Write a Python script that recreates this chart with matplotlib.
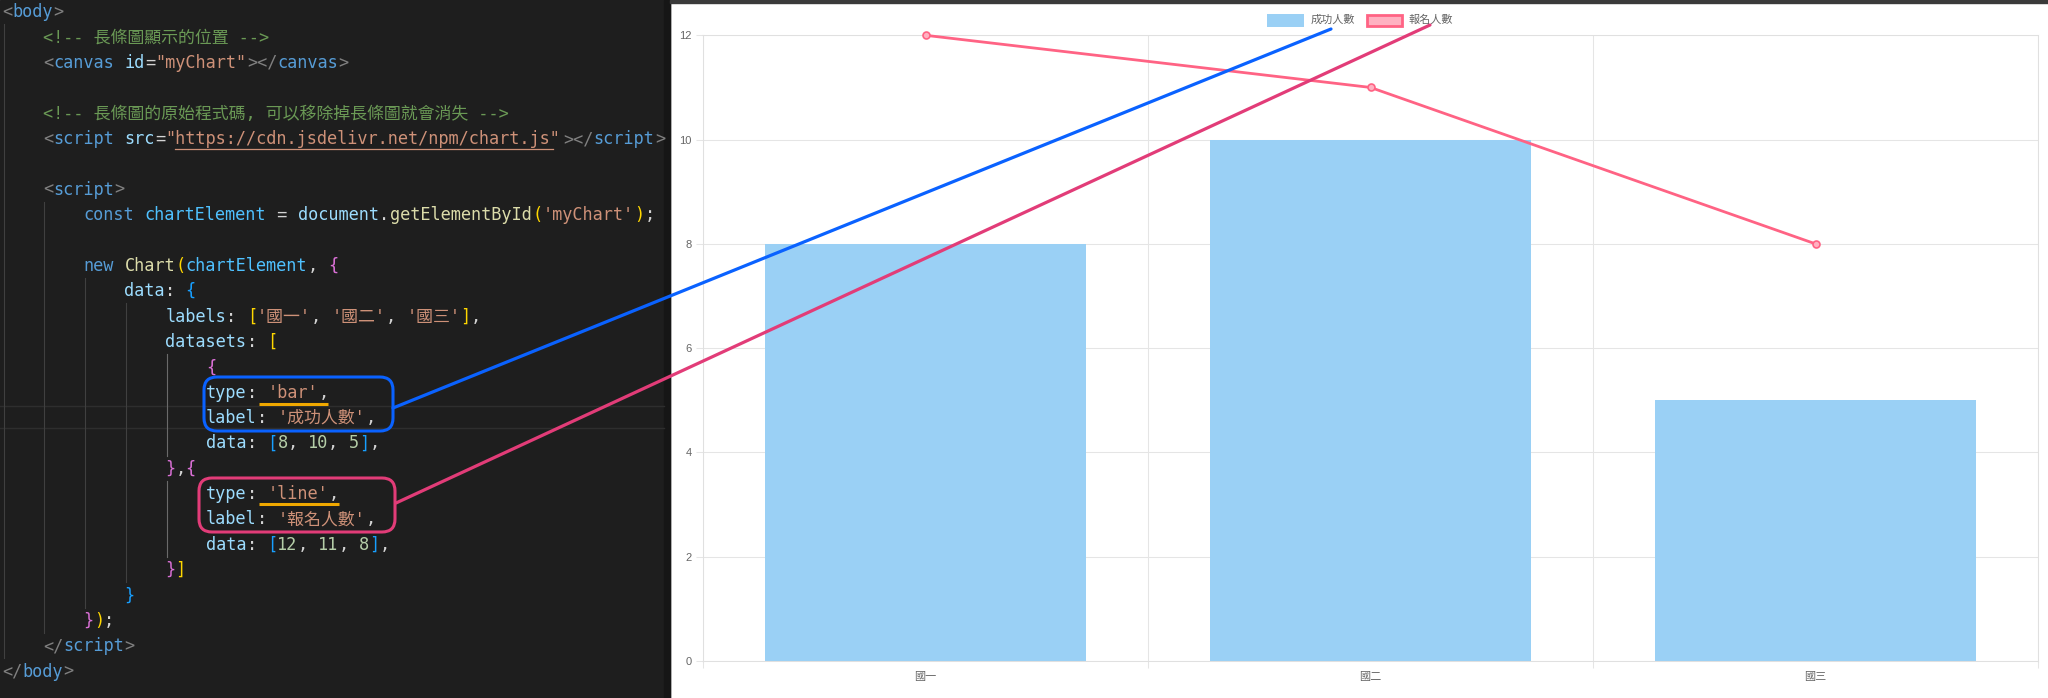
import matplotlib
matplotlib.use('Agg')
import matplotlib.pyplot as plt
import numpy as np
from matplotlib.patches import Rectangle, FancyBboxPatch

# === 資料 ===
labels = ['國一', '國二', '國三']
success = [8, 10, 5]        # 成功人數 (bar)
signup = [12, 11, 8]        # 報名人數 (line)
bar_label = '成功人數'
line_label = '報名人數'
y_ticks = [0, 2, 4, 6, 8, 10, 12]

plt.rcParams['font.family'] = ['Liberation Sans', 'Noto Sans CJK TC']

W, H = 2048, 698
fig = plt.figure(figsize=(W / 100, H / 100), dpi=100)
fig.patch.set_facecolor('white')

# === 右側圖表 (Chart.js 風格) ===
L, R, T, B = 703, 2038, 35.3, 661
ax = fig.add_axes([L / W, 1 - B / H, (R - L) / W, (B - T) / H])
x = np.arange(len(labels))
ax.bar(x, success, width=0.72, color='#9AD0F5', zorder=2)
ax.plot(x, signup, color='#FF6384', lw=2.0, marker='o', ms=5, mfc='#FFB1C1',
        mec='#FF6384', mew=1.2, zorder=3, clip_on=False)
ax.set_xlim(-0.5, len(labels) - 0.5)
ax.set_ylim(0, 12)
ax.set_yticks(y_ticks)
ax.set_xticks(x)
ax.set_xticklabels(labels)
ax.set_xticks(np.arange(-0.5, len(labels), 1), minor=True)
grid_c = '#E5E5E5'
ax.grid(axis='y', which='major', color=grid_c, lw=0.75)
ax.grid(axis='x', which='minor', color=grid_c, lw=0.75)
ax.tick_params(axis='x', which='major', length=0, pad=8, labelsize=8, labelcolor='#666666')
ax.tick_params(axis='x', which='minor', length=5, color=grid_c, width=0.75)
ax.tick_params(axis='y', length=5, color=grid_c, width=0.75, pad=3, labelsize=8, labelcolor='#666666')
for s in ax.spines.values():
    s.set_color('#E0E0E0')
    s.set_linewidth(0.75)
ax.set_axisbelow(True)

# === 覆蓋層 (像素座標) ===
ov = fig.add_axes([0, 0, 1, 1], zorder=10)
ov.set_xlim(0, W)
ov.set_ylim(H, 0)
ov.axis('off')
ov.patch.set_alpha(0)

ov.add_patch(Rectangle((0, 0), 670, H, color='#1E1E1E', zorder=0))
ov.add_patch(Rectangle((664, 0), 6, H, color='#161616', zorder=0))
ov.add_patch(Rectangle((670, 0), W - 670, 2.5, color='#3A3A3A', zorder=0))

# 圖例
ov.add_patch(Rectangle((1267, 13.5), 37, 13, facecolor='#9AD0F5', edgecolor='none', zorder=2))
ov.text(1311, 20, bar_label, fontsize=8, color='#666666', va='center', ha='left')
ov.add_patch(Rectangle((1367, 14.5), 35, 11, facecolor='#FFB1C1', edgecolor='#FF6384', lw=2, zorder=2))
ov.text(1408, 20, line_label, fontsize=8, color='#666666', va='center', ha='left')

# === 左側程式碼 (VS Code Dark+) ===
P = '#808080'; TAG = '#569CD6'; ATTR = '#9CDCFE'; STR = '#CE9178'; CMT = '#6A9955'
KW = '#569CD6'; CONSTV = '#4FC1FF'; VAR = '#9CDCFE'; FUNC = '#DCDCAA'; WH = '#D4D4D4'
NUM = '#B5CEA8'; B1 = '#FFD700'; B2 = '#DA70D6'; B3 = '#179FFF'


def nums(vals):
    out = []
    for i, v in enumerate(vals):
        if i:
            out.append((', ', WH))
        out.append((str(v), NUM))
    return out


code = [
    (0, [('<', P), ('body', TAG), ('>', P)]),
    (4, [('<!-- 長條圖顯示的位置 -->', CMT)]),
    (4, [('<', P), ('canvas', TAG), (' ', WH), ('id', ATTR), ('=', WH), ('"myChart"', STR),
         ('></', P), ('canvas', TAG), ('>', P)]),
    None,
    (4, [('<!-- 長條圖的原始程式碼, 可以移除掉長條圖就會消失 -->', CMT)]),
    (4, [('<', P), ('script', TAG), (' ', WH), ('src', ATTR), ('=', WH),
         ('"https://cdn.jsdelivr.net/npm/chart.js"', STR), ('></', P), ('script', TAG), ('>', P)]),
    None,
    (4, [('<', P), ('script', TAG), ('>', P)]),
    (8, [('const', KW), (' ', WH), ('chartElement', CONSTV), (' = ', WH), ('document', VAR), ('.', WH),
         ('getElementById', FUNC), ('(', B1), ("'myChart'", STR), (')', B1), (';', WH)]),
    None,
    (8, [('new', KW), (' ', WH), ('Chart', FUNC), ('(', B1), ('chartElement', CONSTV), (', ', WH), ('{', B2)]),
    (12, [('data', VAR), (': ', WH), ('{', B3)]),
    (16, [('labels', VAR), (': ', WH), ('[', B1), ("'%s'" % labels[0], STR), (', ', WH),
          ("'%s'" % labels[1], STR), (', ', WH), ("'%s'" % labels[2], STR), (']', B1), (',', WH)]),
    (16, [('datasets', VAR), (': ', WH), ('[', B1)]),
    (20, [('{', B2)]),
    (20, [('type', VAR), (': ', WH), ("'bar'", STR), (',', WH)]),
    (20, [('label', VAR), (': ', WH), ("'%s'" % bar_label, STR), (',', WH)]),
    (20, [('data', VAR), (': ', WH), ('[', B3)] + nums(success) + [(']', B3), (',', WH)]),
    (16, [('}', B2), (',', WH), ('{', B2)]),
    (20, [('type', VAR), (': ', WH), ("'line'", STR), (',', WH)]),
    (20, [('label', VAR), (': ', WH), ("'%s'" % line_label, STR), (',', WH)]),
    (20, [('data', VAR), (': ', WH), ('[', B3)] + nums(signup) + [(']', B3), (',', WH)]),
    (16, [('}', B2), (']', B1)]),
    (12, [('}', B3)]),
    (8, [('}', B2), (')', B1), (';', WH)]),
    (4, [('</', P), ('script', TAG), ('>', P)]),
    (0, [('</', P), ('body', TAG), ('>', P)]),
]

x0 = 2.0
cw = 10.2
y0 = 11.7
lh = 25.36
code_font = ['DejaVu Sans Mono', 'Noto Sans CJK TC']
code_size = 12.2


def ncols(s):
    return sum(1.66 if ord(c) > 0x2E80 else 1 for c in s)


def line_y(i):
    return y0 + lh * i


# 目前行的框
ov.plot([0, 664], [line_y(16) - 11, line_y(16) - 11], color='#2E2E2E', lw=1, zorder=1)
ov.plot([0, 664], [line_y(16) + 11, line_y(16) + 11], color='#2E2E2E', lw=1, zorder=1)

# 縮排參考線
guides = [(0, 1, 25, '#404040'), (4, 8, 24, '#404040'), (8, 11, 23, '#404040'),
          (12, 12, 22, '#404040'), (16, 14, 17, '#6A6A6A'), (16, 19, 21, '#6A6A6A')]
for col, a, b, c in guides:
    gx = x0 + col * cw + 1.5
    ov.plot([gx, gx], [line_y(a) - 12.7, line_y(b) + 12.7], color=c, lw=0.8, zorder=1)

for i, item in enumerate(code):
    if item is None:
        continue
    indent, toks = item
    col = indent
    for txt, c in toks:
        ov.text(x0 + col * cw, line_y(i) + 5.5, txt, family=code_font, fontsize=code_size,
                color=c, ha='left', va='baseline', zorder=3)
        col += ncols(txt)

# 連結底線
ov.plot([x0 + 17 * cw, x0 + 54 * cw], [line_y(5) + 10, line_y(5) + 10], color=STR, lw=0.9, zorder=3)

# 橘色底線
ov.plot([x0 + 25.2 * cw, x0 + 32.0 * cw], [404, 404], color='#F0A800', lw=2.2, zorder=4,
        solid_capstyle='butt')
ov.plot([x0 + 25.2 * cw, x0 + 33.0 * cw], [504, 504], color='#F0A800', lw=2.2, zorder=4,
        solid_capstyle='butt')

# 標註框
blue = '#0A62FF'
pink = '#E23C78'
ov.add_patch(FancyBboxPatch((204, 377), 189, 54, boxstyle='round,pad=0,rounding_size=13',
                            fill=False, edgecolor=blue, lw=2.2, zorder=5))
ov.add_patch(FancyBboxPatch((199, 478), 196, 54, boxstyle='round,pad=0,rounding_size=13',
                            fill=False, edgecolor=pink, lw=2.2, zorder=5))

# 連到圖例的線
ov.plot([393, 1331], [408, 29], color=blue, lw=2.3, zorder=6, solid_capstyle='round')
ov.plot([396, 1430], [503, 25], color=pink, lw=2.3, zorder=6, solid_capstyle='round')

fig.savefig('out.png', dpi=100, facecolor=fig.get_facecolor())
